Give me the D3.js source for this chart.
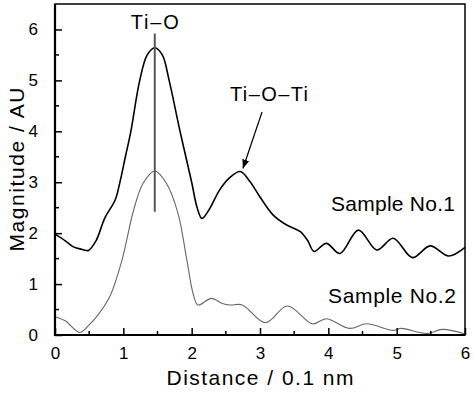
<!DOCTYPE html>
<html>
<head>
<meta charset="utf-8">
<script src="https://cdn.jsdelivr.net/npm/d3@7"></script>
<style>
  body { margin: 0; background: #fff; }
  svg text { font-family: "Liberation Sans", Arial, sans-serif; fill: #000; }
</style>
</head>
<body>
<div id="chart"></div>
<script>
// datos
const xTicks = [0, 1, 2, 3, 4, 5, 6];
const yTicks = [0, 1, 2, 3, 4, 5, 6];

const sample1X = [0, 0.15, 0.27, 0.4, 0.49, 0.6, 0.73, 0.88, 0.95, 1.03, 1.11, 1.24, 1.35, 1.46, 1.57, 1.67, 1.83, 2.0, 2.08, 2.15, 2.25, 2.41, 2.55, 2.71, 2.85, 3.0, 3.19, 3.39, 3.59, 3.7, 3.79, 3.97, 4.17, 4.44, 4.71, 4.95, 5.23, 5.49, 5.76, 6.0];
const sample1Y = [1.98, 1.85, 1.73, 1.68, 1.66, 1.85, 2.3, 2.65, 3.0, 3.5, 4.0, 5.0, 5.5, 5.64, 5.5, 5.0, 4.0, 3.0, 2.5, 2.29, 2.45, 2.85, 3.08, 3.21, 3.02, 2.71, 2.36, 2.16, 2.03, 1.85, 1.64, 1.8, 1.6, 2.06, 1.67, 1.9, 1.52, 1.75, 1.55, 1.72];

const sample2X = [0, 0.15, 0.36, 0.5, 0.61, 0.8, 0.98, 1.15, 1.29, 1.46, 1.63, 1.8, 1.93, 2.02, 2.09, 2.29, 2.45, 2.56, 2.74, 3.08, 3.4, 3.77, 3.97, 4.31, 4.56, 4.95, 5.06, 5.44, 5.67, 6.0];
const sample2Y = [0.36, 0.28, 0.05, 0.2, 0.36, 0.75, 1.47, 2.45, 2.98, 3.22, 2.98, 2.39, 1.47, 0.82, 0.59, 0.72, 0.62, 0.59, 0.59, 0.24, 0.57, 0.22, 0.32, 0.13, 0.22, 0.09, 0.13, 0.03, 0.11, 0.02];

// anotaciones
const peakLine = { x: 1.46, y0: 5.92, y1: 2.42 };
const arrow = { x0: 3.03, y0: 4.38, x1: 2.75, y1: 3.27 };

const W = 474, H = 402;
const margin = { left: 55, right: 9, top: 4, bottom: 67 };

const svg = d3.select("#chart").append("svg")
  .attr("width", W).attr("height", H);

const x = d3.scaleLinear().domain([0, 6]).range([margin.left, W - margin.right]);
const y = d3.scaleLinear().domain([0, 6.5]).range([H - margin.bottom, margin.top]);

const defs = svg.append("defs");
defs.append("marker")
  .attr("id", "arr").attr("viewBox", "0 0 10 10")
  .attr("refX", 10).attr("refY", 5)
  .attr("markerWidth", 9).attr("markerHeight", 9)
  .attr("markerUnits", "userSpaceOnUse")
  .attr("orient", "auto")
  .append("path").attr("d", "M0,1 L10,5 L0,9 Z").attr("fill", "#000");

// 1) curvas
const line = d3.line().x(d => x(d[0])).y(d => y(d[1])).curve(d3.curveCatmullRom.alpha(0.5));

svg.append("path")
  .datum(sample2X.map((v, i) => [v, sample2Y[i]]))
  .attr("d", line).attr("fill", "none")
  .attr("stroke", "#666").attr("stroke-width", 1.1);

svg.append("path")
  .datum(sample1X.map((v, i) => [v, sample1Y[i]]))
  .attr("d", line).attr("fill", "none")
  .attr("stroke", "#000").attr("stroke-width", 1.6);

// 2) linea vertical del pico
svg.append("line")
  .attr("x1", x(peakLine.x)).attr("x2", x(peakLine.x))
  .attr("y1", y(peakLine.y0)).attr("y2", y(peakLine.y1))
  .attr("stroke", "#555").attr("stroke-width", 2);

// 3) flecha
svg.append("line")
  .attr("x1", x(arrow.x0)).attr("y1", y(arrow.y0))
  .attr("x2", x(arrow.x1)).attr("y2", y(arrow.y1))
  .attr("stroke", "#000").attr("stroke-width", 1.2)
  .attr("marker-end", "url(#arr)");

// 4) ejes
const plotW = W - margin.left - margin.right;
const plotH = H - margin.top - margin.bottom;

const xAxis = svg.append("g")
  .attr("transform", `translate(0,${H - margin.bottom})`)
  .call(d3.axisBottom(x).tickValues(xTicks).tickFormat(d3.format("d"))
    .tickSizeInner(-7).tickSizeOuter(0).tickPadding(14));
const yAxis = svg.append("g")
  .attr("transform", `translate(${margin.left},0)`)
  .call(d3.axisLeft(y).tickValues(yTicks).tickFormat(d3.format("d"))
    .tickSizeInner(-7).tickSizeOuter(0).tickPadding(17));

[xAxis, yAxis].forEach(g => {
  g.select(".domain").remove();
  g.selectAll(".tick line").attr("stroke", "#000").attr("stroke-width", 1.5);
  g.selectAll("text").attr("font-size", 17).attr("fill", "#000");
});
xAxis.selectAll("text").attr("dy", "0.6em");

// ticks menores
const minorX = d3.range(0.5, 6, 1);
const minorY = d3.range(0.5, 6.5, 1);
svg.selectAll(".mx").data(minorX).enter().append("line")
  .attr("x1", d => x(d)).attr("x2", d => x(d))
  .attr("y1", H - margin.bottom).attr("y2", H - margin.bottom - 4)
  .attr("stroke", "#000").attr("stroke-width", 1.5);
svg.selectAll(".my").data(minorY).enter().append("line")
  .attr("x1", margin.left).attr("x2", margin.left + 4)
  .attr("y1", d => y(d)).attr("y2", d => y(d))
  .attr("stroke", "#000").attr("stroke-width", 1.5);

// marco
svg.append("rect")
  .attr("x", margin.left).attr("y", margin.top)
  .attr("width", plotW).attr("height", plotH)
  .attr("fill", "none").attr("stroke", "#000").attr("stroke-width", 1.5);
svg.append("line")
  .attr("x1", margin.left).attr("x2", margin.left)
  .attr("y1", margin.top).attr("y2", H - margin.bottom + 1)
  .attr("stroke", "#000").attr("stroke-width", 2.2);
svg.append("line")
  .attr("x1", margin.left - 1).attr("x2", W - margin.right)
  .attr("y1", H - margin.bottom).attr("y2", H - margin.bottom)
  .attr("stroke", "#000").attr("stroke-width", 2.2);

// 5) textos
svg.append("text")
  .attr("x", (margin.left + W - margin.right) / 2).attr("y", 385)
  .attr("text-anchor", "middle").attr("font-size", 21)
  .attr("textLength", 187).attr("lengthAdjust", "spacing")
  .text("Distance / 0.1 nm");

svg.append("text")
  .attr("transform", `translate(24,${margin.top + plotH / 2}) rotate(-90)`)
  .attr("text-anchor", "middle").attr("font-size", 21)
  .attr("textLength", 164).attr("lengthAdjust", "spacing")
  .text("Magnitude / AU");

svg.append("text")
  .attr("x", x(peakLine.x)).attr("y", 29)
  .attr("text-anchor", "middle").attr("font-size", 20)
  .attr("textLength", 48).attr("lengthAdjust", "spacing")
  .text("Ti\u2013O");

svg.append("text")
  .attr("x", 269).attr("y", 101)
  .attr("text-anchor", "middle").attr("font-size", 20)
  .attr("textLength", 78).attr("lengthAdjust", "spacing")
  .text("Ti\u2013O\u2013Ti");

svg.append("text")
  .attr("x", 455).attr("y", 211)
  .attr("text-anchor", "end").attr("font-size", 21)
  .attr("textLength", 124).attr("lengthAdjust", "spacing")
  .text("Sample No.1");

svg.append("text")
  .attr("x", 456).attr("y", 303)
  .attr("text-anchor", "end").attr("font-size", 21)
  .attr("textLength", 128).attr("lengthAdjust", "spacing")
  .text("Sample No.2");
</script>
</body>
</html>
